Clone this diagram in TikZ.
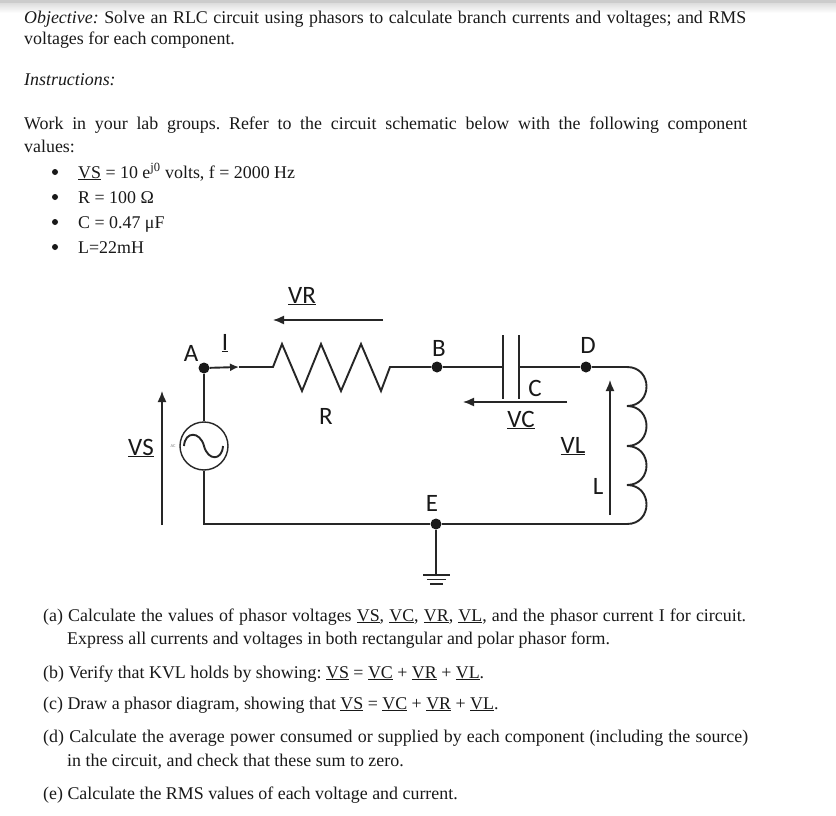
\documentclass[tikz,border=0pt]{standalone}
\usepackage{fontspec}
\setmainfont{Liberation Serif}
\setsansfont{Carlito}
\usetikzlibrary{arrows.meta}
\usetikzlibrary{shadings}
\newcommand{\fitline}[2]{\makebox[#1pt][s]{#2}}
\newcommand{\ul}[1]{\underline{#1}}
\tikzset{
 bodytext/.style={anchor=base west, inner sep=0, text=black!90, font=\fontsize{17.9}{20}\selectfont\frenchspacing},
 lab/.style={inner sep=0, text=black!90, font=\sffamily\fontsize{25}{26}\selectfont},
 wire/.style={black!85, line width=1.9pt},
 volt/.style={black!85, line width=1.5pt, -{Latex[length=11pt,width=9pt]}},
 dot/.style={circle, fill=black!90, inner sep=0, minimum size=11pt},
}
\begin{document}
\begin{tikzpicture}[x=1pt,y=-1pt]
\useasboundingbox (0,0) rectangle (836,816);
\fill[white] (0,0) rectangle (836,816);
\fill[black!20] (0,0) rectangle (836,4);
\shade[top color=black!12, bottom color=white] (0,4) rectangle (836,13);
% page text
\node[bodytext] (objA) at (24,24) {\fitline{722}{\textit{Objective:} Solve an RLC circuit using phasors to calculate branch currents and voltages; and RMS}};
\node[bodytext] (objB) at (24,45) {voltages for each component.};
\node[bodytext] (instr) at (24,86) {\textit{Instructions:}};
\node[bodytext] (workA) at (24,129) {\fitline{723}{Work in your lab groups. Refer to the circuit schematic below with the following component}};
\node[bodytext] (workB) at (24,152) {values:};
\node[bodytext] (valS) at (78,178) {\ul{VS} = 10 e\textsuperscript{j0} volts, f = 2000 Hz};
\node[bodytext] (valR) at (78,203) {R = 100 Ω};
\node[bodytext] (valC) at (78,228) {C = 0.47 μF};
\node[bodytext] (valL) at (78,253) {L=22mH};
\foreach \y in {172,197,222,247} {
 \fill[black!90] (55,\y) circle (3);
}
\node[bodytext] (qa) at (43,621) {\fitline{703}{(a) Calculate the values of phasor voltages \ul{VS}, \ul{VC}, \ul{VR}, \ul{VL}, and the phasor current I for circuit.}};
\node[bodytext] (qaB) at (67,644) {Express all currents and voltages in both rectangular and polar phasor form.};
\node[bodytext] (qb) at (43,678) {(b) Verify that KVL holds by showing: \ul{VS} = \ul{VC} + \ul{VR} + \ul{VL}.};
\node[bodytext] (qc) at (43,709) {(c) Draw a phasor diagram, showing that \ul{VS} = \ul{VC} + \ul{VR} + \ul{VL}.};
\node[bodytext] (qd) at (43,742) {\fitline{705}{(d) Calculate the average power consumed or supplied by each component (including the source)}};
\node[bodytext] (qdB) at (67,766) {in the circuit, and check that these sum to zero.};
\node[bodytext] (qe) at (43,799) {(e) Calculate the RMS values of each voltage and current.};
% circuit
\node[dot] (A) at (204,368) {};
\node[dot] (B) at (437,367) {};
\node[dot] (D) at (586,367) {};
\node[dot] (E) at (436,524) {};
\node[circle, draw=black!85, line width=1.4pt, inner sep=0, minimum size=48pt] (src) at (204,446) {};
\coordinate (Imark) at (239,367);
\coordinate (Rin) at (273,367);
\coordinate (Rout) at (390,367);
\coordinate (Cl) at (503,367);
\coordinate (Cr) at (519,367);
\coordinate (Ltop) at (627,367);
\coordinate (Lbot) at (627,524);
\coordinate (Corner) at (204,524);
\coordinate (Gnd) at (436,575);
\draw[wire,-{Latex[length=9pt,width=8pt]}] (A) -- (Imark);
\draw[wire] (Imark) -- (Rin) --++(9,-23) --++(20,47) --++(19,-47) --++(20,47) --++(20,-47) --++(20,47) -- (Rout) -- (B);
\draw[wire] (B) -- (Cl);
\draw[wire] (Cr) -- (D) -- (Ltop);
\draw[wire] (503,335) -- (503,399);
\draw[wire] (519,335) -- (519,399);
\draw[wire] (A) -- (src);
\draw[wire] (src) -- (Corner) -- (E) -- (Lbot);
\draw[wire] (E) -- (Gnd);
\foreach \a/\b in {367/406,406/446,446/485,485/524} {
 \draw[wire] (627,\a) .. controls (653,\a) and (653,\b) .. (627,\b);
}
\draw[wire] (423,575) -- (450,575);
\draw[wire] (427,579.5) -- (446,579.5);
\draw[wire] (430,584) -- (443,584);
\draw[wire] (184,446) .. controls (185,431) and (200,431) .. (204,446) .. controls (208,461) and (222,461) .. (223,446);
\node[inner sep=0, text=black!50, font=\sffamily\fontsize{4.5}{4.5}\selectfont] (ac) at (173,446) {AC};
% voltage arrows
\coordinate (VSa) at (162,525);
\coordinate (VSb) at (162,391);
\coordinate (VRa) at (383,320);
\coordinate (VRb) at (273,320);
\coordinate (VCa) at (567,402);
\coordinate (VCb) at (463,402);
\coordinate (VLa) at (610,515);
\coordinate (VLb) at (610,380);
\draw[volt] (VSa) -- (VSb);
\draw[volt] (VRa) -- (VRb);
\draw[volt] (VCa) -- (VCb);
\draw[volt] (VLa) -- (VLb);
% labels
\node[lab] (labA) at (191,353) {A};
\node[lab] (labI) at (225,343) {\ul{I}};
\node[lab] (labB) at (439,348) {B};
\node[lab] (labC) at (535,388) {C};
\node[lab] (labD) at (588,345) {D};
\node[lab] (labE) at (432,503) {E};
\node[lab] (labR) at (326,416) {R};
\node[lab] (labL) at (598,486) {L};
\node[lab] (labVR) at (302,296) {\ul{VR}};
\node[lab] (labVS) at (141,448) {\ul{VS}};
\node[lab] (labVC) at (521,420) {\ul{VC}};
\node[lab] (labVL) at (573,446) {\ul{VL}};
\end{tikzpicture}
\end{document}
